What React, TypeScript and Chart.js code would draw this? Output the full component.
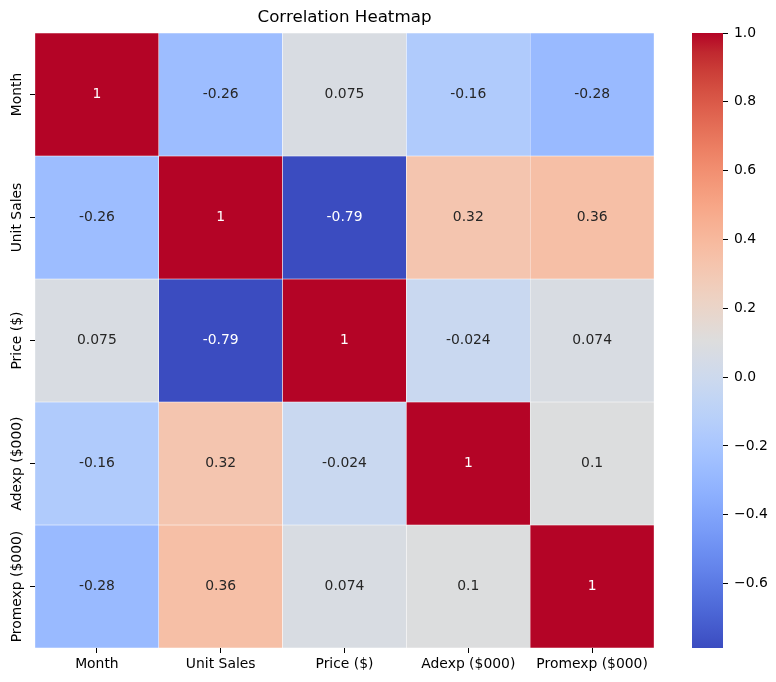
import { useEffect, useRef } from "react";
import { Chart, registerables } from "chart.js";

Chart.register(...registerables);
Chart.defaults.font.family = "'DejaVu Sans', sans-serif";

// ---- data ----
const LABELS = ["Month", "Unit Sales", "Price ($)", "Adexp ($000)", "Promexp ($000)"];
const ROW_MONTH = [1, -0.26, 0.075, -0.16, -0.28];
const ROW_UNIT_SALES = [-0.26, 1, -0.79, 0.32, 0.36];
const ROW_PRICE = [0.075, -0.79, 1, -0.024, 0.074];
const ROW_ADEXP = [-0.16, 0.32, -0.024, 1, 0.1];
const ROW_PROMEXP = [-0.28, 0.36, 0.074, 0.1, 1];
const MATRIX = [ROW_MONTH, ROW_UNIT_SALES, ROW_PRICE, ROW_ADEXP, ROW_PROMEXP];
const COLOR_MIN = -0.787;
const COLOR_MAX = 1;
const COLORBAR_TICKS = [-0.6, -0.4, -0.2, 0, 0.2, 0.4, 0.6, 0.8, 1.0];
const TITLE = "Correlation Heatmap";

// coolwarm colormap samples (evenly spaced from 0 to 1)
const COOLWARM: [number, number, number][] = [
  [59, 76, 192], [68, 90, 204], [77, 104, 215], [87, 117, 225], [98, 130, 234],
  [108, 142, 241], [119, 154, 247], [130, 165, 251], [141, 176, 254], [152, 185, 255],
  [163, 194, 255], [174, 201, 253], [184, 208, 249], [194, 213, 244], [204, 217, 238],
  [213, 219, 230], [221, 221, 221], [229, 216, 209], [236, 211, 197], [241, 204, 185],
  [245, 196, 173], [247, 187, 160], [247, 177, 148], [247, 166, 135], [244, 154, 123],
  [241, 141, 111], [236, 127, 99], [229, 112, 88], [222, 96, 77], [213, 80, 66],
  [203, 62, 56], [192, 40, 47], [180, 4, 38],
];

function cmap(t: number): [number, number, number] {
  const c = Math.max(0, Math.min(1, t)) * (COOLWARM.length - 1);
  const i = Math.min(COOLWARM.length - 2, Math.floor(c));
  const f = c - i;
  const a = COOLWARM[i], b = COOLWARM[i + 1];
  return [0, 1, 2].map((k) => a[k] + (b[k] - a[k]) * f) as [number, number, number];
}
function rgbStr(c: [number, number, number]) {
  return `rgb(${Math.round(c[0])},${Math.round(c[1])},${Math.round(c[2])})`;
}
function colorFor(v: number) {
  return cmap((v - COLOR_MIN) / (COLOR_MAX - COLOR_MIN));
}
function luminance(c: [number, number, number]) {
  const lin = c.map((x) => {
    const s = x / 255;
    return s <= 0.03928 ? s / 12.92 : Math.pow((s + 0.055) / 1.055, 2.4);
  });
  return 0.2126 * lin[0] + 0.7152 * lin[1] + 0.0722 * lin[2];
}
function fmt2g(v: number) {
  return String(Number(v.toPrecision(2)));
}

const TEXT = "#000";
const FONT_PX = 13.9;

export default function App() {
  const heatRef = useRef<HTMLCanvasElement | null>(null);
  const barRef = useRef<HTMLCanvasElement | null>(null);

  useEffect(() => {
    if (!heatRef.current || !barRef.current) return;

    const annotate = {
      id: "annotate",
      afterDatasetsDraw(chart: any) {
        const ctx = chart.ctx;
        ctx.save();
        ctx.font = `${FONT_PX}px 'DejaVu Sans', sans-serif`;
        ctx.textAlign = "center";
        ctx.textBaseline = "middle";
        MATRIX.forEach((row, i) => {
          const meta = chart.getDatasetMeta(i);
          row.forEach((v, j) => {
            const el = meta.data[j];
            const p = el.getCenterPoint();
            const lum = luminance(colorFor(v));
            ctx.fillStyle = lum > 0.408 ? "#262626" : "#ffffff";
            ctx.fillText(fmt2g(v), p.x, p.y);
          });
        });
        ctx.restore();
      },
    };

    const yLabels = {
      id: "yLabels",
      afterDraw(chart: any) {
        const ctx = chart.ctx;
        const ys = chart.scales.y;
        ctx.save();
        ctx.font = `${FONT_PX}px 'DejaVu Sans', sans-serif`;
        ctx.fillStyle = TEXT;
        ctx.textAlign = "center";
        ctx.textBaseline = "middle";
        LABELS.forEach((lab, i) => {
          const y = ys.getPixelForValue(i + 0.5);
          ctx.save();
          ctx.translate(ys.right - 18, y);
          ctx.rotate(-Math.PI / 2);
          ctx.fillText(lab, 0, 0);
          ctx.restore();
        });
        ctx.restore();
      },
    };

    const heat = new Chart(heatRef.current, {
      type: "bar",
      data: {
        labels: LABELS,
        datasets: MATRIX.map((row, i) => ({
          label: LABELS[i],
          data: row.map(() => 1),
          backgroundColor: row.map((v) => rgbStr(colorFor(v))),
          borderColor: "#ffffff",
          borderWidth: 0.5,
          borderSkipped: false,
          barPercentage: 1,
          categoryPercentage: 1,
        })),
      },
      options: {
        responsive: false,
        animation: false,
        layout: { padding: 0 },
        plugins: {
          legend: { display: false },
          tooltip: { enabled: false },
          title: {
            display: true,
            text: TITLE,
            color: TEXT,
            font: { size: 16.7, weight: "normal" },
            padding: { top: 0, bottom: 5 },
          },
        },
        scales: {
          x: {
            stacked: true,
            offset: true,
            grid: { offset: false, drawOnChartArea: false, drawTicks: true, tickLength: 5, color: TEXT, lineWidth: 1 },
            border: { display: false },
            ticks: { color: TEXT, font: { size: FONT_PX }, padding: 3, maxRotation: 0, autoSkip: false },
            afterFit: (s: any) => { s.height = 26; },
          },
          y: {
            stacked: true,
            reverse: true,
            min: 0,
            max: LABELS.length,
            afterBuildTicks: (s: any) => { s.ticks = LABELS.map((_, i) => ({ value: i + 0.5 })); },
            ticks: { callback: () => "" },
            grid: { drawOnChartArea: false, drawTicks: true, tickLength: 5, color: TEXT, lineWidth: 1 },
            border: { display: false },
            afterFit: (s: any) => { s.width = 27; },
          },
          spacer: {
            type: "linear",
            position: "right",
            display: true,
            grid: { display: false, drawTicks: false },
            ticks: { display: false },
            border: { display: false },
            afterFit: (s: any) => { s.width = 27; },
          },
        },
      },
      plugins: [annotate, yLabels],
    } as any);

    const bar = new Chart(barRef.current, {
      type: "bar",
      data: {
        labels: [""],
        datasets: [
          {
            data: [[COLOR_MIN, COLOR_MAX]],
            backgroundColor: (c: any) => {
              const chart = c.chart;
              if (!chart.chartArea) return "#ddd";
              const ys = chart.scales.y;
              const y0 = ys.getPixelForValue(COLOR_MIN);
              const y1 = ys.getPixelForValue(COLOR_MAX);
              const g = chart.ctx.createLinearGradient(0, y0, 0, y1);
              COOLWARM.forEach((col, k) => g.addColorStop(k / (COOLWARM.length - 1), rgbStr(col)));
              return g;
            },
            borderWidth: 0,
            borderSkipped: false,
            barPercentage: 1,
            categoryPercentage: 1,
          },
        ],
      },
      options: {
        responsive: false,
        animation: false,
        layout: { padding: { left: 0, right: 0, top: 25, bottom: 26 } },
        plugins: { legend: { display: false }, tooltip: { enabled: false } },
        scales: {
          x: { display: false },
          y: {
            position: "right",
            min: COLOR_MIN,
            max: COLOR_MAX,
            afterBuildTicks: (s: any) => { s.ticks = COLORBAR_TICKS.map((v) => ({ value: v })); },
            ticks: {
              color: TEXT,
              font: { size: FONT_PX },
              padding: 6,
              callback: (v: any) => Number(v).toFixed(1).replace("-", "\u2212"),
            },
            grid: { drawOnChartArea: false, drawTicks: true, tickLength: 5, color: TEXT, lineWidth: 1 },
            border: { display: false },
            afterFit: (s: any) => { s.width = 45; },
          },
        },
      },
    } as any);

    return () => {
      heat.destroy();
      bar.destroy();
    };
  }, []);

  return (
    <div style={{ position: "relative", width: 760, height: 666 }}>
      <canvas ref={heatRef} width={673} height={666} style={{ position: "absolute", left: 0, top: 0, display: "block" }} />
      <canvas ref={barRef} width={76} height={666} style={{ position: "absolute", left: 684, top: 0, display: "block" }} />
    </div>
  );
}
